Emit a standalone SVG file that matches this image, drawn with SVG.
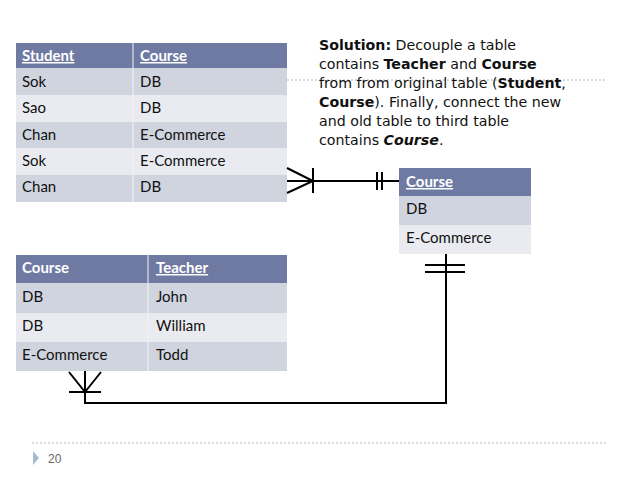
<svg xmlns="http://www.w3.org/2000/svg" width="638" height="479" viewBox="0 0 638 479">
<style>
.hd{fill:#6F7AA3}
.dk{fill:#D0D4DF}
.lt{fill:#E9EBF0}
.sep{stroke:#F2F3F6;stroke-width:1}
.th{font-family:Lato,"Liberation Sans",sans-serif;font-size:15px;font-weight:bold;fill:#fff}
.u{text-decoration:underline}
.td{font-family:Lato,"Liberation Sans",sans-serif;font-size:15px;fill:#111}
.note{font-family:"DejaVu Sans",sans-serif;font-size:14.2px;fill:#111}
.b{font-weight:bold}
.ln{stroke:#000;stroke-width:2;fill:none}
.dot{stroke:#AABBC9;stroke-width:1;stroke-dasharray:2,2;fill:none}
</style>
<rect width="638" height="479" fill="#fff"/>
<g id="frame">
<line class="dot" x1="287" y1="80" x2="607" y2="80"/>
<line class="dot" x1="32" y1="443" x2="607" y2="443"/>
<polygon points="33,451 39,458 33,465" fill="#A9BBCB"/>
<text x="48" y="463" font-family="'Liberation Sans',sans-serif" font-size="12" fill="#666">20</text>
</g>
<g id="student-course">
<rect class="hd" x="16" y="43" width="271" height="25"/>
<rect class="dk" x="16" y="68" width="271" height="27"/>
<rect class="lt" x="16" y="95" width="271" height="27"/>
<rect class="dk" x="16" y="122" width="271" height="26"/>
<rect class="lt" x="16" y="148" width="271" height="27"/>
<rect class="dk" x="16" y="175" width="271" height="27"/>
<line class="sep" x1="133" y1="43" x2="133" y2="202"/>
<text class="th u" x="22" y="61">Student</text>
<text class="th u" x="140" y="61">Course</text>
<text class="td" x="22" y="87">Sok</text><text class="td" x="140" y="87">DB</text>
<text class="td" x="22" y="113">Sao</text><text class="td" x="140" y="113">DB</text>
<text class="td" x="22" y="140">Chan</text><text class="td" x="140" y="140">E-Commerce</text>
<text class="td" x="22" y="166">Sok</text><text class="td" x="140" y="166">E-Commerce</text>
<text class="td" x="22" y="192">Chan</text><text class="td" x="140" y="192">DB</text>
</g>
<g id="course-teacher">
<rect class="hd" x="16" y="255" width="271" height="28"/>
<rect class="dk" x="16" y="283" width="271" height="30"/>
<rect class="lt" x="16" y="313" width="271" height="29"/>
<rect class="dk" x="16" y="342" width="271" height="29"/>
<line class="sep" x1="148" y1="255" x2="148" y2="371"/>
<text class="th" x="22" y="273">Course</text>
<text class="th u" x="156" y="273">Teacher</text>
<text class="td" x="22" y="302">DB</text><text class="td" x="156" y="302">John</text>
<text class="td" x="22" y="331">DB</text><text class="td" x="156" y="331">William</text>
<text class="td" x="22" y="360">E-Commerce</text><text class="td" x="156" y="360">Todd</text>
</g>
<g id="course">
<rect class="hd" x="399" y="168" width="132" height="28"/>
<rect class="dk" x="399" y="196" width="132" height="29"/>
<rect class="lt" x="399" y="225" width="132" height="29"/>
<text class="th u" x="406" y="187">Course</text>
<text class="td" x="406" y="214">DB</text>
<text class="td" x="406" y="243">E-Commerce</text>
</g>
<g id="note">
<text class="note" x="319" y="50"><tspan class="b">Solution:</tspan> Decouple a table</text>
<text class="note" x="319" y="69">contains <tspan class="b">Teacher</tspan> and <tspan class="b">Course</tspan></text>
<text class="note" x="319" y="88">from from original table (<tspan class="b">Student</tspan>,</text>
<text class="note" x="319" y="107"><tspan class="b">Course</tspan>). Finally, connect the new</text>
<text class="note" x="319" y="126">and old table to third table</text>
<text class="note" x="319" y="145">contains <tspan class="b" font-style="italic">Course</tspan>.</text>
</g>
<g id="connectors">
<path class="ln" d="M287,181 H399"/>
<path class="ln" d="M287,168 L313,181 L287,193"/>
<path class="ln" d="M313,168 V193"/>
<path class="ln" d="M377,172 V190 M382,172 V190"/>
<path class="ln" d="M85,371 V403 H446 V254"/>
<path class="ln" d="M69,372 L85,392 L101,372"/>
<path class="ln" d="M69,392 H101"/>
<path class="ln" d="M425,265 H465 M425,272 H465"/>
</g>
</svg>
